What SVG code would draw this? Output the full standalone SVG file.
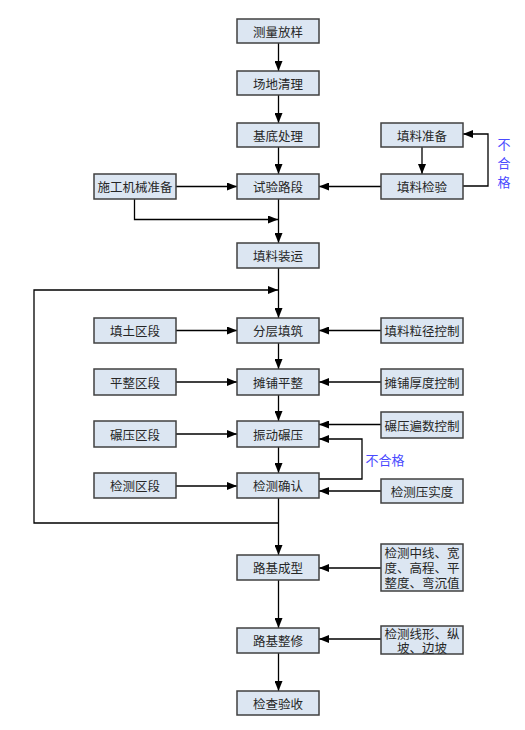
<svg xmlns="http://www.w3.org/2000/svg" width="525" height="730" viewBox="0 0 525 730">
<defs>
<marker id="ah" markerWidth="10" markerHeight="8" refX="10" refY="4" orient="auto" markerUnits="userSpaceOnUse">
<path d="M0,0 L10,4 L0,8 Z" fill="#000"/>
</marker>
<style>
.b{fill:#dce6f2;stroke:#404040;stroke-width:1.5}
.t{font-family:"Noto Sans CJK SC","Noto Sans CJK JP",sans-serif;font-size:12.5px;fill:#262626;text-anchor:middle;dominant-baseline:central}
.c{fill:none;stroke:#000;stroke-width:1.3}
.a{marker-end:url(#ah)}
.n{font-family:"Noto Sans CJK SC",sans-serif;font-size:13px;fill:#4a4aff;text-anchor:middle;dominant-baseline:central}
</style>
</defs>
<rect width="525" height="730" fill="#fff"/>
<g id="connectors">
<path class="c a" d="M278.5,43 V71"/>
<path class="c a" d="M278.5,95 V123"/>
<path class="c a" d="M278.5,147 V174"/>
<path class="c a" d="M422,147 V174"/>
<path class="c a" d="M381,186.5 H319"/>
<path class="c a" d="M176,186.5 H237"/>
<path class="c a" d="M463,186 H488 V134 H463"/>
<path class="c a" d="M278.5,199 V243"/>
<path class="c a" d="M134.5,199 V219.5 H278"/>
<path class="c a" d="M278.5,268 V318"/>
<path class="c a" d="M278.5,523 H34 V290 H278"/>
<path class="c a" d="M176,330.5 H237"/>
<path class="c a" d="M381,330.5 H319"/>
<path class="c a" d="M278.5,343 V369"/>
<path class="c a" d="M176,382 H237"/>
<path class="c a" d="M381,382 H319"/>
<path class="c a" d="M278.5,395 V421"/>
<path class="c a" d="M176,434 H237"/>
<path class="c a" d="M381,424.5 H319"/>
<path class="c a" d="M278.5,447 V473"/>
<path class="c a" d="M319,479 H362 V439 H319"/>
<path class="c a" d="M176,486 H237"/>
<path class="c a" d="M381,491 H319"/>
<path class="c a" d="M278.5,498 V555"/>
<path class="c a" d="M381,568 H319"/>
<path class="c a" d="M278.5,580 V628"/>
<path class="c a" d="M381,639 H319"/>
<path class="c a" d="M278.5,653 V691"/>
<text class="n" x="504" y="143">不</text>
<text class="n" x="504" y="162">合</text>
<text class="n" x="504" y="181">格</text>
<text class="n" x="385" y="459">不合格</text>
</g>
<g id="n1"><rect class="b" x="237" y="19" width="82" height="24"/><text class="t" x="278" y="31">测量放样</text></g>
<g id="n2"><rect class="b" x="237" y="71" width="82" height="24"/><text class="t" x="278" y="83">场地清理</text></g>
<g id="n3"><rect class="b" x="237" y="123" width="82" height="24"/><text class="t" x="278" y="135">基底处理</text></g>
<g id="n4"><rect class="b" x="381" y="123" width="82" height="24"/><text class="t" x="422" y="135">填料准备</text></g>
<g id="n5"><rect class="b" x="94" y="174" width="82" height="25"/><text class="t" x="135" y="186.5">施工机械准备</text></g>
<g id="n6"><rect class="b" x="237" y="174" width="82" height="25"/><text class="t" x="278" y="186.5">试验路段</text></g>
<g id="n7"><rect class="b" x="381" y="174" width="82" height="25"/><text class="t" x="422" y="186.5">填料检验</text></g>
<g id="n8"><rect class="b" x="237" y="243" width="82" height="25"/><text class="t" x="278" y="255.5">填料装运</text></g>
<g id="n9"><rect class="b" x="94" y="318" width="82" height="25"/><text class="t" x="135" y="330.5">填土区段</text></g>
<g id="n10"><rect class="b" x="237" y="318" width="82" height="25"/><text class="t" x="278" y="330.5">分层填筑</text></g>
<g id="n11"><rect class="b" x="381" y="318" width="82" height="25"/><text class="t" x="422" y="330.5">填料粒径控制</text></g>
<g id="n12"><rect class="b" x="94" y="369" width="82" height="26"/><text class="t" x="135" y="382">平整区段</text></g>
<g id="n13"><rect class="b" x="237" y="369" width="82" height="26"/><text class="t" x="278" y="382">摊铺平整</text></g>
<g id="n14"><rect class="b" x="381" y="369" width="82" height="26"/><text class="t" x="422" y="382">摊铺厚度控制</text></g>
<g id="n15"><rect class="b" x="94" y="421" width="82" height="26"/><text class="t" x="135" y="434">碾压区段</text></g>
<g id="n16"><rect class="b" x="237" y="421" width="82" height="26"/><text class="t" x="278" y="434">振动碾压</text></g>
<g id="n17"><rect class="b" x="381" y="412" width="82" height="26"/><text class="t" x="422" y="425">碾压遍数控制</text></g>
<g id="n18"><rect class="b" x="94" y="473" width="82" height="25"/><text class="t" x="135" y="485.5">检测区段</text></g>
<g id="n19"><rect class="b" x="237" y="473" width="82" height="25"/><text class="t" x="278" y="485.5">检测确认</text></g>
<g id="n20"><rect class="b" x="381" y="479" width="82" height="24"/><text class="t" x="422" y="491">检测压实度</text></g>
<g id="n21"><rect class="b" x="237" y="555" width="82" height="25"/><text class="t" x="278" y="567.5">路基成型</text></g>
<g id="n22"><rect class="b" x="381" y="544" width="82" height="47"/><text class="t" x="422" y="552.5">检测中线、宽</text><text class="t" x="422" y="567.5">度、高程、平</text><text class="t" x="422" y="582.5">整度、弯沉值</text></g>
<g id="n23"><rect class="b" x="237" y="628" width="82" height="25"/><text class="t" x="278" y="640.5">路基整修</text></g>
<g id="n24"><rect class="b" x="381" y="626" width="82" height="28"/><text class="t" x="422" y="633">检测线形、纵</text><text class="t" x="422" y="647">坡、边坡</text></g>
<g id="n25"><rect class="b" x="237" y="691" width="82" height="24"/><text class="t" x="278" y="703">检查验收</text></g>
</svg>
